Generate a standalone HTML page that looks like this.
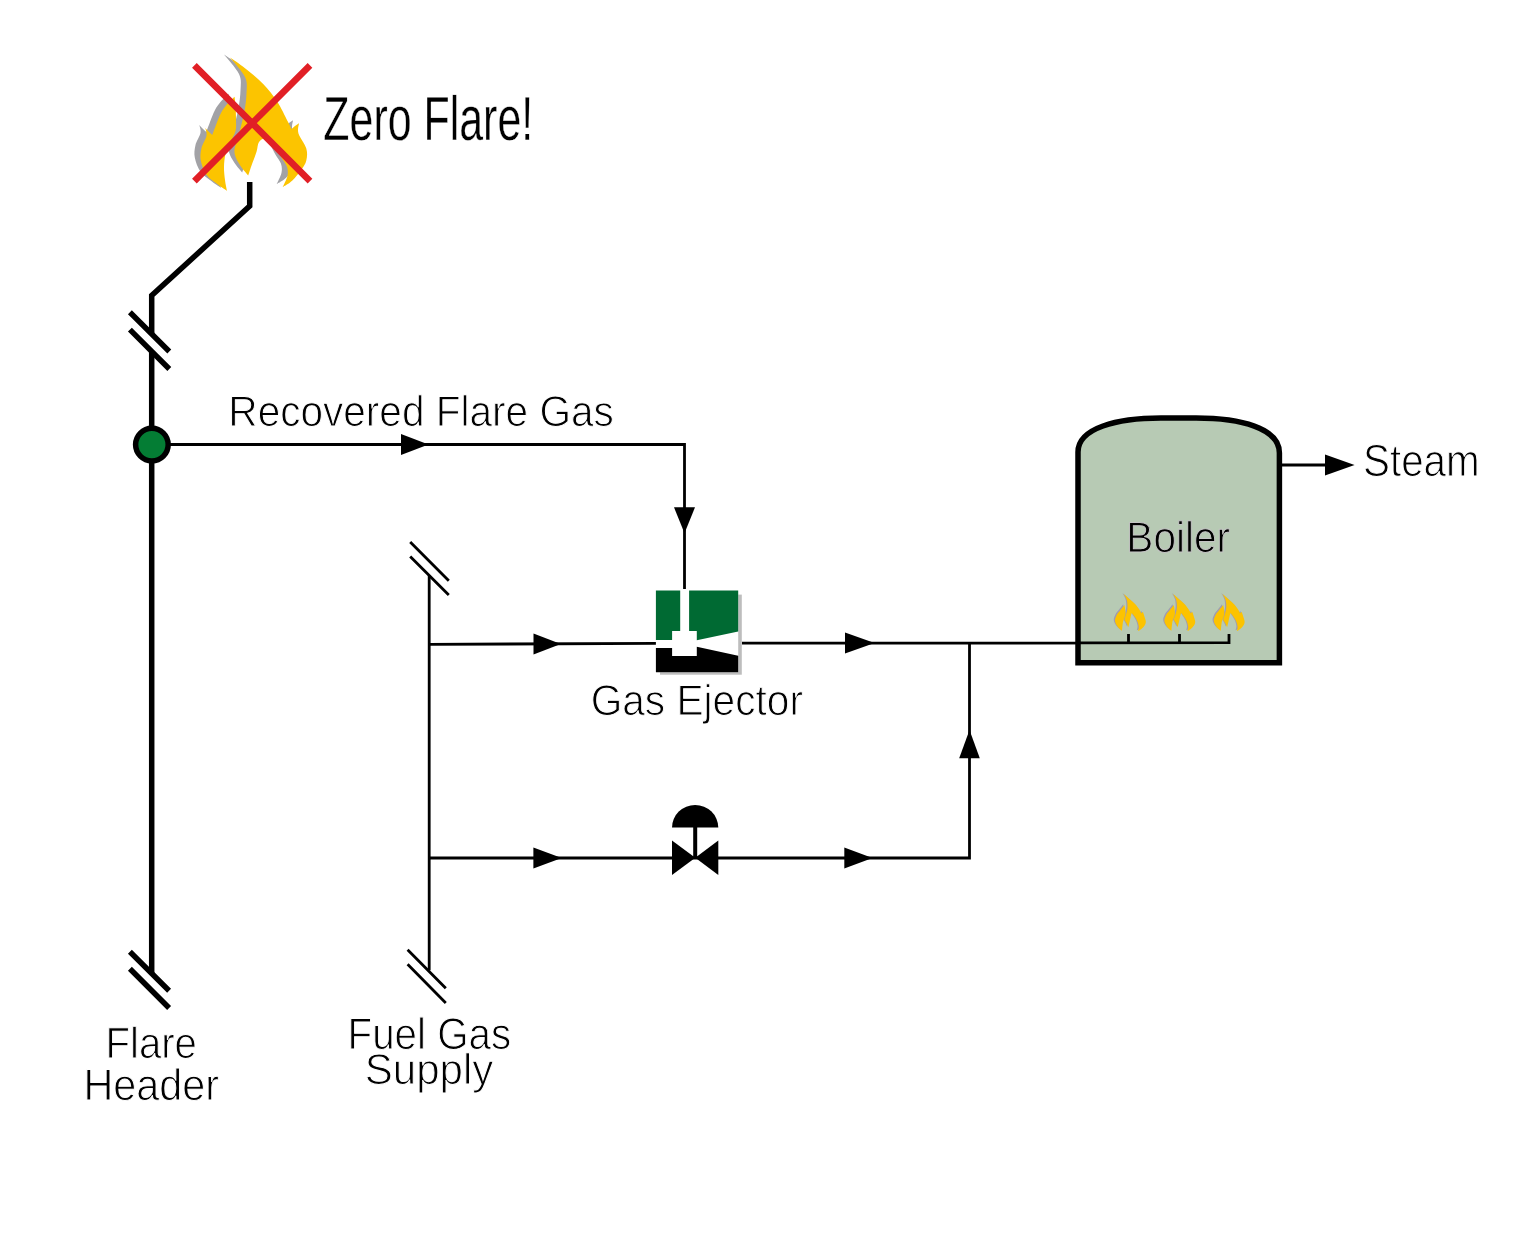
<!DOCTYPE html>
<html>
<head>
<meta charset="utf-8">
<style>
html,body{margin:0;padding:0;background:#fff;width:1536px;height:1235px;overflow:hidden;}
svg{display:block;}
text{font-family:"Liberation Sans",sans-serif;text-rendering:geometricPrecision;}
</style>
</head>
<body>
<svg width="1536" height="1235" viewBox="0 0 1536 1235">
<rect x="0" y="0" width="1536" height="1235" fill="#fff"/>

<!-- ===== Flare header (thick) ===== -->
<g fill="none" stroke="#000" stroke-width="5.5" stroke-linejoin="miter" stroke-linecap="butt">
  <path d="M249.7 182 L249.7 206 L151.7 295.5 L151.7 334"/>
  <path d="M151.7 351 L151.7 973.6"/>
  <path d="M129.9 312.2 L169.3 351.5 M129.9 329.6 L169.3 369"/>
  <path d="M129.9 951.7 L169.1 990.8 M129.9 968.8 L169.1 1008"/>
</g>

<!-- ===== thin process lines ===== -->
<g fill="none" stroke="#000" stroke-width="2.8" stroke-linejoin="miter" stroke-linecap="butt">
  <path d="M168 444.5 L684.5 444.5 L684.5 589"/>
  <path d="M429.2 575.3 L429.2 970.2"/>
  <path d="M410.2 542 L448.8 580.8 M410.2 556.6 L448.8 595.1"/>
  <path d="M407.6 949.8 L445.8 988.3 M407.6 964.3 L445.8 1002.9"/>
  <path d="M429.2 644.3 L656 643.4"/>
  <path d="M742 643.2 L1229 642.9 L1229 634"/>
  <path d="M1128.5 642.9 L1128.5 634 M1179.5 642.9 L1179.5 634"/>
  <path d="M969.5 642.9 L969.5 858 L429.2 858"/>
  <path d="M1281 465 L1330 465"/>
</g>

<!-- arrows -->
<g fill="#000">
  <polygon points="401,434 428.5,444.5 401,455"/>
  <polygon points="674,507.3 695,507.3 684.5,533.3"/>
  <polygon points="533.5,633.4 560.8,643.9 533.5,654.4"/>
  <polygon points="845,632.6 874.6,643.1 845,653.6"/>
  <polygon points="533.4,847.5 561.7,858 533.4,868.5"/>
  <polygon points="844.3,847.5 872.5,858 844.3,868.5"/>
  <polygon points="959.2,758.3 969.5,730 979.8,758.3"/>
  <polygon points="1325,454.6 1354.6,465.1 1325,475.6"/>
</g>

<!-- green junction circle -->
<circle cx="151.9" cy="444.6" r="16.3" fill="#047d34" stroke="#000" stroke-width="5.5"/>

<!-- control valve -->
<g fill="#000">
  <polygon points="672,840.6 672,874.9 695.3,857.8"/>
  <polygon points="718.3,840.6 718.3,874.9 695.3,857.8"/>
  <path d="M672 827.5 A23.15 22.5 0 0 1 718.3 827.5 Z"/>
  <rect x="693.2" y="826" width="4" height="32"/>
</g>

<!-- gas ejector -->
<g>
  <rect x="660" y="594.6" width="81.8" height="80.1" fill="#bdbdbd"/>
  <rect x="655.9" y="590.5" width="82.3" height="81.8" fill="#fff"/>
  <!-- green left -->
  <path d="M655.9 590.5 L680.2 590.5 L680.2 631 L672.1 631 L672.1 640 L655.9 640 Z" fill="#006a33"/>
  <!-- green right -->
  <path d="M689.1 590.5 L738.2 590.5 L738.2 631.6 L696.8 640.3 L696.8 631 L689.1 631 Z" fill="#006a33"/>
  <!-- black bottom -->
  <path d="M655.9 648 L672.1 648 L672.1 656.1 L696.8 656.1 L696.8 646.8 L738.2 655.8 L738.2 672.3 L655.9 672.3 Z" fill="#000"/>
</g>

<!-- boiler -->
<path d="M1078 662.8 L1078 452 C1078 428 1117 418 1161 418 L1196 418 C1240.2 418 1279.4 428 1279.4 453 L1279.4 662.8 Z" fill="#b7cab4" stroke="#000" stroke-width="5.5" stroke-linejoin="miter"/>


<!-- big flame with red X -->
<g>
  <g fill="#a2a2a6" transform="translate(-6 -3)">
    <path d="M230.0 57.5 C232.5 59.3 239.5 63.8 245.0 68.2 C250.5 72.6 257.8 78.4 263.2 84.0 C268.6 89.6 273.1 95.4 277.2 101.6 C281.2 107.8 285.1 116.4 287.5 121.0 C289.9 125.6 290.8 127.7 291.5 129.0 C292.1 128.5 293.8 127.0 295.0 126.0 C296.2 125.0 298.3 123.7 299.0 123.2 C298.9 124.9 297.2 129.0 298.4 133.2 C299.6 137.4 305.0 143.8 306.3 148.4 C307.6 153.0 307.1 157.0 306.3 160.5 C305.5 164.0 303.8 166.2 301.5 169.6 C299.2 172.9 295.5 177.6 292.4 180.6 C289.2 183.6 284.2 186.2 282.6 187.3 C283.4 185.4 286.8 179.1 287.5 175.7 C288.2 172.2 287.9 169.6 286.9 166.6 C285.9 163.6 283.4 160.9 281.4 157.5 C279.4 154.1 277.6 149.4 275.0 146.0 C272.4 142.6 267.5 138.5 266.0 137.0 C264.8 137.8 260.6 139.6 259.0 142.0 C257.4 144.4 257.8 147.8 256.6 151.6 C255.4 155.4 253.2 160.7 251.8 164.7 C250.4 168.7 248.8 173.7 248.2 175.5 C247.2 174.2 244.0 170.9 242.0 168.0 C240.0 165.1 237.2 161.1 236.0 158.0 C234.8 154.9 234.2 152.8 234.5 149.5 C234.8 146.2 236.9 142.1 238.0 138.0 C239.1 133.9 240.2 129.5 241.3 125.0 C242.4 120.5 243.6 116.3 244.5 111.0 C245.4 105.7 246.4 98.7 246.5 93.0 C246.6 87.3 247.8 82.9 245.0 77.0 C242.2 71.1 232.5 60.8 230.0 57.5Z"/>
    <path d="M234.5 96.8 C233.2 98.1 229.2 101.9 226.9 104.6 C224.7 107.3 222.8 109.6 221.0 113.0 C219.2 116.4 217.4 121.3 216.0 125.0 C214.6 128.7 212.9 133.3 212.3 135.0 C211.6 134.3 209.2 132.2 208.0 131.0 C206.8 129.8 205.8 128.6 205.3 128.1 C205.5 129.4 207.2 132.6 206.5 136.0 C205.8 139.4 202.3 144.3 201.4 148.4 C200.5 152.5 200.0 156.2 200.8 160.5 C201.6 164.8 203.7 170.7 206.3 174.5 C208.9 178.3 213.2 180.8 216.6 183.6 C220.0 186.3 225.3 189.8 227.0 191.0 C226.7 189.2 225.5 184.0 225.0 180.0 C224.5 176.0 223.9 171.3 224.0 167.0 C224.1 162.7 224.5 158.0 225.5 154.0 C226.5 150.0 228.3 146.8 230.0 143.0 C231.7 139.2 234.5 134.8 235.5 131.0 C236.5 127.2 236.0 124.3 236.0 120.0 C236.0 115.7 235.8 108.9 235.5 105.0 C235.2 101.1 234.7 98.2 234.5 96.8Z"/>
  </g>
  <g fill="#fcc400">
    <path d="M230.0 57.5 C232.5 59.3 239.5 63.8 245.0 68.2 C250.5 72.6 257.8 78.4 263.2 84.0 C268.6 89.6 273.1 95.4 277.2 101.6 C281.2 107.8 285.1 116.4 287.5 121.0 C289.9 125.6 290.8 127.7 291.5 129.0 C292.1 128.5 293.8 127.0 295.0 126.0 C296.2 125.0 298.3 123.7 299.0 123.2 C298.9 124.9 297.2 129.0 298.4 133.2 C299.6 137.4 305.0 143.8 306.3 148.4 C307.6 153.0 307.1 157.0 306.3 160.5 C305.5 164.0 303.8 166.2 301.5 169.6 C299.2 172.9 295.5 177.6 292.4 180.6 C289.2 183.6 284.2 186.2 282.6 187.3 C283.4 185.4 286.8 179.1 287.5 175.7 C288.2 172.2 287.9 169.6 286.9 166.6 C285.9 163.6 283.4 160.9 281.4 157.5 C279.4 154.1 277.6 149.4 275.0 146.0 C272.4 142.6 267.5 138.5 266.0 137.0 C264.8 137.8 260.6 139.6 259.0 142.0 C257.4 144.4 257.8 147.8 256.6 151.6 C255.4 155.4 253.2 160.7 251.8 164.7 C250.4 168.7 248.8 173.7 248.2 175.5 C247.2 174.2 244.0 170.9 242.0 168.0 C240.0 165.1 237.2 161.1 236.0 158.0 C234.8 154.9 234.2 152.8 234.5 149.5 C234.8 146.2 236.9 142.1 238.0 138.0 C239.1 133.9 240.2 129.5 241.3 125.0 C242.4 120.5 243.6 116.3 244.5 111.0 C245.4 105.7 246.4 98.7 246.5 93.0 C246.6 87.3 247.8 82.9 245.0 77.0 C242.2 71.1 232.5 60.8 230.0 57.5Z"/>
    <path d="M234.5 96.8 C233.2 98.1 229.2 101.9 226.9 104.6 C224.7 107.3 222.8 109.6 221.0 113.0 C219.2 116.4 217.4 121.3 216.0 125.0 C214.6 128.7 212.9 133.3 212.3 135.0 C211.6 134.3 209.2 132.2 208.0 131.0 C206.8 129.8 205.8 128.6 205.3 128.1 C205.5 129.4 207.2 132.6 206.5 136.0 C205.8 139.4 202.3 144.3 201.4 148.4 C200.5 152.5 200.0 156.2 200.8 160.5 C201.6 164.8 203.7 170.7 206.3 174.5 C208.9 178.3 213.2 180.8 216.6 183.6 C220.0 186.3 225.3 189.8 227.0 191.0 C226.7 189.2 225.5 184.0 225.0 180.0 C224.5 176.0 223.9 171.3 224.0 167.0 C224.1 162.7 224.5 158.0 225.5 154.0 C226.5 150.0 228.3 146.8 230.0 143.0 C231.7 139.2 234.5 134.8 235.5 131.0 C236.5 127.2 236.0 124.3 236.0 120.0 C236.0 115.7 235.8 108.9 235.5 105.0 C235.2 101.1 234.7 98.2 234.5 96.8Z"/>
  </g>
  <path d="M194.4 65.3 L310 181.1 M310 65.3 L194.4 181.1" stroke="#e11f26" stroke-width="6.6" fill="none"/>
</g>

<!-- burner flames -->
<defs>
  <g id="smf">
    <g fill="#a09cb0" transform="translate(-1.2 -0.8)">
      <path d="M1123.6 593.8 C1124.6 594.6 1127.5 597.1 1129.4 598.9 C1131.4 600.6 1133.5 602.4 1135.3 604.3 C1137.0 606.2 1138.9 609.0 1139.9 610.5 C1140.9 612.0 1140.9 612.8 1141.1 613.3 C1141.4 613.1 1142.7 612.3 1143.0 612.1 C1143.3 613.1 1144.5 616.6 1145.0 618.3 C1145.5 620.0 1145.9 620.9 1145.8 622.2 C1145.7 623.5 1145.0 624.9 1144.2 626.1 C1143.4 627.3 1142.1 628.4 1141.1 629.2 C1140.1 630.0 1138.5 630.8 1138.0 631.1 C1138.1 630.4 1138.9 628.6 1138.8 626.9 C1138.7 625.2 1138.0 622.8 1137.2 621.0 C1136.4 619.2 1135.0 617.4 1134.1 616.0 C1133.2 614.6 1132.2 613.4 1131.8 612.9 C1131.7 613.3 1131.3 613.9 1131.0 615.2 C1130.7 616.6 1130.2 619.0 1129.8 621.0 C1129.3 623.0 1128.5 626.2 1128.3 627.3 C1128.0 626.6 1126.9 624.3 1126.3 623.0 C1125.7 621.7 1124.5 621.0 1124.5 619.5 C1124.5 618.0 1125.7 616.0 1126.2 614.0 C1126.7 612.0 1127.4 609.8 1127.5 607.4 C1127.6 605.0 1127.4 602.0 1126.7 599.7 C1126.0 597.4 1124.1 594.8 1123.6 593.8Z"/><path d="M1124.4 605.1 C1123.7 606.0 1121.4 608.8 1120.1 610.5 C1118.8 612.2 1117.4 613.5 1116.6 615.2 C1115.8 617.0 1114.8 619.0 1115.0 621.0 C1115.2 623.0 1116.6 625.3 1117.8 626.9 C1119.0 628.5 1121.3 630.1 1122.0 630.8 C1122.1 629.5 1122.5 625.0 1122.8 623.0 C1123.1 621.0 1123.5 620.5 1124.0 619.0 C1124.5 617.5 1125.3 615.6 1125.5 614.0 C1125.7 612.4 1125.4 610.9 1125.2 609.4 C1125.0 607.9 1124.5 605.8 1124.4 605.1Z"/>
    </g>
    <g fill="#fcc300">
      <path d="M1123.6 593.8 C1124.6 594.6 1127.5 597.1 1129.4 598.9 C1131.4 600.6 1133.5 602.4 1135.3 604.3 C1137.0 606.2 1138.9 609.0 1139.9 610.5 C1140.9 612.0 1140.9 612.8 1141.1 613.3 C1141.4 613.1 1142.7 612.3 1143.0 612.1 C1143.3 613.1 1144.5 616.6 1145.0 618.3 C1145.5 620.0 1145.9 620.9 1145.8 622.2 C1145.7 623.5 1145.0 624.9 1144.2 626.1 C1143.4 627.3 1142.1 628.4 1141.1 629.2 C1140.1 630.0 1138.5 630.8 1138.0 631.1 C1138.1 630.4 1138.9 628.6 1138.8 626.9 C1138.7 625.2 1138.0 622.8 1137.2 621.0 C1136.4 619.2 1135.0 617.4 1134.1 616.0 C1133.2 614.6 1132.2 613.4 1131.8 612.9 C1131.7 613.3 1131.3 613.9 1131.0 615.2 C1130.7 616.6 1130.2 619.0 1129.8 621.0 C1129.3 623.0 1128.5 626.2 1128.3 627.3 C1128.0 626.6 1126.9 624.3 1126.3 623.0 C1125.7 621.7 1124.5 621.0 1124.5 619.5 C1124.5 618.0 1125.7 616.0 1126.2 614.0 C1126.7 612.0 1127.4 609.8 1127.5 607.4 C1127.6 605.0 1127.4 602.0 1126.7 599.7 C1126.0 597.4 1124.1 594.8 1123.6 593.8Z"/><path d="M1124.4 605.1 C1123.7 606.0 1121.4 608.8 1120.1 610.5 C1118.8 612.2 1117.4 613.5 1116.6 615.2 C1115.8 617.0 1114.8 619.0 1115.0 621.0 C1115.2 623.0 1116.6 625.3 1117.8 626.9 C1119.0 628.5 1121.3 630.1 1122.0 630.8 C1122.1 629.5 1122.5 625.0 1122.8 623.0 C1123.1 621.0 1123.5 620.5 1124.0 619.0 C1124.5 617.5 1125.3 615.6 1125.5 614.0 C1125.7 612.4 1125.4 610.9 1125.2 609.4 C1125.0 607.9 1124.5 605.8 1124.4 605.1Z"/>
    </g>
  </g>
</defs>
<use href="#smf"/>
<use href="#smf" transform="translate(49.4 0)"/>
<use href="#smf" transform="translate(98.8 0)"/>
<g fill="none" stroke="#000" stroke-width="2.8" stroke-linejoin="miter">
  <path d="M1078 642.8 L1229 642.6 L1229 634"/>
  <path d="M1128.5 642.8 L1128.5 634 M1179.5 642.7 L1179.5 634"/>
</g>

<!-- ===== texts ===== -->
<g style="filter:grayscale(1)">
<text transform="translate(228.37 425.80) scale(0.9430 1)" font-size="43.00" fill="#000" stroke="#fff" stroke-width="1.0">Recovered Flare Gas</text>
<text transform="translate(590.65 715.30) scale(0.9452 1)" font-size="43.00" fill="#000" stroke="#fff" stroke-width="1.0">Gas Ejector</text>
<text transform="translate(1363.01 476.30) scale(0.8938 1)" font-size="45.15" fill="#000" stroke="#fff" stroke-width="1.0">Steam</text>
<text transform="translate(1126.37 551.50) scale(0.9425 1)" font-size="43.00" fill="#000" stroke="#b7cab4" stroke-width="1.0">Boiler</text>
<text transform="translate(105.45 1057.60) scale(0.9150 1)" font-size="43.86" fill="#000" stroke="#fff" stroke-width="1.0">Flare</text>
<text transform="translate(83.42 1100.40) scale(0.9334 1)" font-size="44.29" fill="#000" stroke="#fff" stroke-width="1.0">Header</text>
<text transform="translate(347.50 1048.50) scale(0.9105 1)" font-size="44.29" fill="#000" stroke="#fff" stroke-width="1.0">Fuel Gas</text>
<text transform="translate(364.76 1083.50) scale(0.9785 1)" font-size="43.00" fill="#000" stroke="#fff" stroke-width="1.0">Supply</text>
<text transform="translate(323.33 140.30) scale(0.6887 1)" font-size="62.32" fill="#000" stroke="#fff" stroke-width="0.4">Zero Flare!</text>
</g>

</svg>
</body>
</html>
